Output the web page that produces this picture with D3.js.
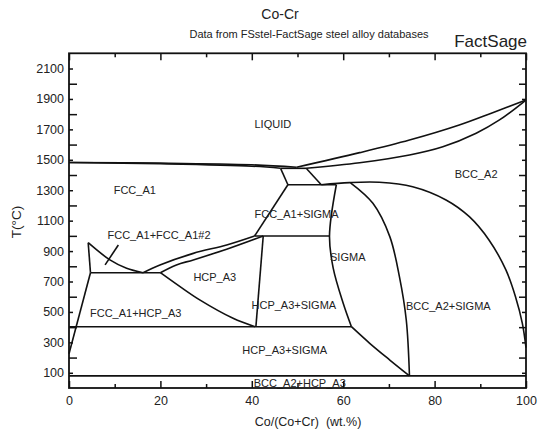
<!DOCTYPE html>
<html>
<head>
<meta charset="utf-8">
<script src="https://cdn.jsdelivr.net/npm/d3@7"></script>
<style>
  body { margin: 0; background: #fff; }
  svg text { font-family: "Liberation Sans", Arial, sans-serif; fill: #222; }
</style>
</head>
<body>
<script>
var svgWidth = 550;
var svgHeight = 436;

// phase boundaries, [Co wt.%, T in C]
var liquidusCo = [[0, 1482], [20, 1478], [40, 1467], [49.8, 1451]];
var solidusCo = [[0, 1482], [20, 1474], [40, 1458], [46.3, 1444]];
var eutectic = [[46.3, 1444], [51.9, 1444]];
var liquidusCr = [[49.8, 1451], [63.6, 1547], [74.5, 1630], [85.4, 1729], [92.7, 1810], [100, 1893]];
var solidusCr = [[51.9, 1444], [63.6, 1481], [74.5, 1532], [81.8, 1586], [89.1, 1675], [94.2, 1762], [100, 1893]];
var fccSolvusTop = [[46.3, 1444], [47.9, 1336]];
var bccSolvusTop = [[51.9, 1444], [55.2, 1336]];
var line1336 = [[47.9, 1336], [58.5, 1336]];
var fccSigma = [[47.9, 1336], [40.6, 999]];
var bccSigma = [[55.2, 1336], [61.4, 1350], [67.9, 1352], [75.2, 1323], [82.5, 1236], [87.6, 1126], [91.9, 973], [95.6, 776], [97.7, 600], [99.2, 425], [100, 265]];
var sigmaRight = [[61.6, 1349], [66.5, 1214], [70.2, 995], [72.3, 732], [73.8, 447], [74.5, 80]];
var sigmaLeft = [[58.5, 1336], [57.0, 999], [57.8, 790], [60.0, 557], [61.8, 403]];
var sigmaLow = [[61.8, 403], [65.8, 294], [70.2, 184], [74.5, 80]];
var line1000 = [[40.6, 999], [57.0, 999]];
var line403 = [[0, 403], [61.8, 403]];
var line80 = [[0, 80], [100, 80]];
var hcpRight = [[42.5, 999], [40.9, 403]];
var hcpLeft = [[20, 758], [24.3, 666], [28.6, 579], [35.9, 458], [40.7, 403]];
var fccHcpUpper = [[16.2, 758], [19.9, 809], [27.2, 885], [34.5, 940], [40.6, 999]];
var fccHcpLower = [[20, 758], [23.5, 809], [27.2, 842], [34.5, 912], [42.5, 999]];
var line758 = [[4.7, 758], [20, 758]];
var gapLeft = [[4.2, 955], [4.7, 758]];
var gapRight = [[4.2, 955], [8.95, 842], [12.6, 787], [16.2, 758]];
var fccLeft = [[4.7, 758], [0, 225]];
var pointer = [[10.8, 940], [7.9, 809]];

var curves = [liquidusCo, solidusCo, liquidusCr, solidusCr, bccSigma, sigmaRight, sigmaLeft,
  sigmaLow, hcpLeft, fccHcpUpper, fccHcpLower, gapRight];
var straights = [eutectic, fccSolvusTop, bccSolvusTop, line1336, fccSigma, line1000, line403,
  line80, hcpRight, line758, gapLeft, fccLeft, pointer];

var phaseNames = ["LIQUID", "FCC_A1", "FCC_A1+FCC_A1#2", "HCP_A3", "FCC_A1+HCP_A3", "FCC_A1+SIGMA",
  "SIGMA", "HCP_A3+SIGMA", "BCC_A2+SIGMA", "BCC_A2", "HCP_A3+SIGMA", "BCC_A2+HCP_A3"];
var phaseX = [44.6, 14.4, 19.7, 31.9, 14.6, 49.8, 61.0, 49.2, 83.0, 89.1, 47.2, 50.5];
var phaseT = [1735, 1302, 1006, 730, 493, 1142, 863, 546, 535, 1407, 250, 33];

var xTicks = d3.range(0, 101, 10);
var yTicks = d3.range(100, 2101, 100);

var x = d3.scaleLinear().domain([0, 100]).range([69, 526]);
var y = d3.scaleLinear().domain([0, 2200]).range([388, 53.3]);

var svg = d3.select("body").append("svg")
  .attr("width", svgWidth)
  .attr("height", svgHeight);

// titles
svg.append("text").attr("x", 280).attr("y", 18.5)
  .attr("text-anchor", "middle").style("font-size", "14px").text("Co-Cr");
svg.append("text").attr("x", 309).attr("y", 37.5)
  .attr("text-anchor", "middle").style("font-size", "11px")
  .text("Data from FSstel-FactSage steel alloy databases");
svg.append("text").attr("x", 527).attr("y", 46.5)
  .attr("text-anchor", "end").style("font-size", "17px").text("FactSage");

var chart = svg.append("g");

var smooth = d3.line().x(d => x(d[0])).y(d => y(d[1])).curve(d3.curveCatmullRom.alpha(0.5));
var straight = d3.line().x(d => x(d[0])).y(d => y(d[1]));

chart.selectAll(".curve")
  .data(curves)
  .enter()
  .append("path")
  .attr("d", smooth)
  .attr("fill", "none")
  .attr("stroke", "#111")
  .attr("stroke-width", 1.6);

chart.selectAll(".straight")
  .data(straights)
  .enter()
  .append("path")
  .attr("d", straight)
  .attr("fill", "none")
  .attr("stroke", "#111")
  .attr("stroke-width", 1.6);

chart.selectAll(".phase")
  .data(phaseNames)
  .enter()
  .append("text")
  .attr("x", (d, i) => x(phaseX[i]))
  .attr("y", (d, i) => y(phaseT[i]))
  .attr("dy", "0.35em")
  .attr("text-anchor", "middle")
  .style("font-size", "11px")
  .text(d => d);

// axes, ticks inward, long every other tick
function styleTicks(g) {
  g.select(".domain").remove();
  g.selectAll(".tick line").attr("stroke", "#111").attr("stroke-width", 1.5);
  g.selectAll(".tick text").style("font-size", "12.5px").style("fill", "#222");
}

var bottomAxis = svg.append("g").attr("transform", "translate(0,388)")
  .call(d3.axisBottom(x).tickValues(xTicks).tickSize(0).tickPadding(8)
    .tickFormat(d => d % 20 === 0 ? d : ""));
styleTicks(bottomAxis);
bottomAxis.selectAll(".tick line").attr("y2", d => d % 20 === 0 ? -7 : -4);

var topAxis = svg.append("g").attr("transform", "translate(0,53.3)")
  .call(d3.axisTop(x).tickValues(xTicks).tickSize(0).tickFormat(""));
styleTicks(topAxis);
topAxis.selectAll(".tick line").attr("y2", d => d % 20 === 0 ? 7 : 4);

var leftAxis = svg.append("g").attr("transform", "translate(69,0)")
  .call(d3.axisLeft(y).tickValues(yTicks).tickSize(0).tickPadding(5)
    .tickFormat(d => d % 200 === 100 ? d : ""));
styleTicks(leftAxis);
leftAxis.selectAll(".tick line").attr("x2", d => d % 200 === 0 ? 8 : 4);

var rightAxis = svg.append("g").attr("transform", "translate(526,0)")
  .call(d3.axisRight(y).tickValues(yTicks).tickSize(0).tickFormat(""));
styleTicks(rightAxis);
rightAxis.selectAll(".tick line").attr("x2", d => d % 200 === 0 ? -7 : -4);

svg.append("rect")
  .attr("x", 69).attr("y", 53.3)
  .attr("width", 526 - 69).attr("height", 388 - 53.3)
  .attr("fill", "none").attr("stroke", "#111").attr("stroke-width", 1.8);

// axis titles
svg.append("text")
  .attr("transform", "translate(21,222) rotate(-90)")
  .attr("text-anchor", "middle").style("font-size", "13.5px").text("T(\u00b0C)");
svg.append("text").attr("x", 308).attr("y", 426)
  .attr("text-anchor", "middle").style("font-size", "12.5px").style("white-space", "pre")
  .text("Co/(Co+Cr)  (wt.%)");
</script>
</body>
</html>
